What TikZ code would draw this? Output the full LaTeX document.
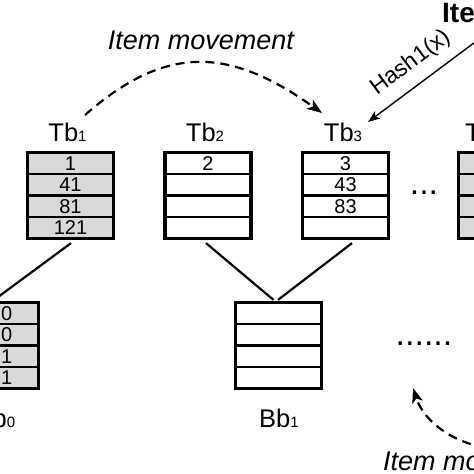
\documentclass[tikz,border=0pt]{standalone}
\usepackage{fontspec}
\setmainfont{Liberation Sans}
\usetikzlibrary{arrows.meta,calc}
\newcommand{\fsz}[1]{\fontsize{#1}{#1}\selectfont}
\newcommand{\subdig}[1]{{\fsz{15}#1}}
\tikzset{
 cell/.style={draw, line width=2.2pt, minimum width=85pt, minimum height=21.25pt, inner sep=0pt, font=\fsz{20}},
 outerbox/.style={draw, line width=2.6pt},
 lab/.style={font=\fsz{25.5}, anchor=base, inner sep=0pt},
 link/.style={line width=2.2pt},
 movearrow/.style={line width=2.2pt, dash pattern=on 9pt off 6pt, -{Stealth[length=15pt,width=11pt,inset=4pt]}},
 hasharrow/.style={line width=1.4pt, -{Stealth[length=12pt,width=9pt,inset=3pt]}},
 dotstext/.style={font=\fsz{34}, anchor=base, inner sep=0pt},
}
\newcommand{\mybucket}[8]{%
 \node[cell,fill=#4] (#1-1) at (#2,#3+10.625) {#5};
 \node[cell,fill=#4] (#1-2) at (#2,#3+31.875) {#6};
 \node[cell,fill=#4] (#1-3) at (#2,#3+53.125) {#7};
 \node[cell,fill=#4] (#1-4) at (#2,#3+74.375) {#8};
 \draw[outerbox] (#1-1.north west) rectangle (#1-4.south east);
}
\begin{document}
\begin{tikzpicture}[x=1pt,y=-1pt]
\useasboundingbox (0,0) rectangle (474,474);
\clip (0,0) rectangle (474,474);
\fill[white] (0,0) rectangle (474,474);

% top buckets
\mybucket{tb1}{70.5}{153}{black!15}{1}{41}{81}{121}
\mybucket{tb2}{208}{153}{white}{2}{}{}{}
\mybucket{tb3}{345.5}{153}{white}{3}{43}{83}{}
\mybucket{tb4}{501.5}{153}{black!15}{}{}{}{}

% bottom buckets
\mybucket{bb0}{-4.5}{303}{black!15}{120}{160}{121}{161}
\mybucket{bb1}{278.5}{303}{white}{}{}{}{}

% labels
\node[lab] (tb1lab) at (67.5,141) {Tb\subdig{1}};
\node[lab] (tb2lab) at (205,141) {Tb\subdig{2}};
\node[lab] (tb3lab) at (343,141) {Tb\subdig{3}};
\node[lab, anchor=base west] (tb4lab) at (465,141) {Tb\subdig{4}};
\node[lab] (bb0lab) at (-4.5,427) {Bb\subdig{0}};
\node[lab] (bb1lab) at (279,427) {Bb\subdig{1}};

\node[dotstext] (dots1) at (424,194.5) {...};
\node[dotstext] (dots2) at (424,345) {......};

% connectors
\draw[link] ($(tb1-4.south)+(0.5,4)$) -- ($(bb0-1.north)+(0,-3)$);
\draw[link] ($(tb2-4.south)+(-2,4)$) -- ($(bb1-1.north)+(-5,-2)$);
\draw[link] ($(tb3-4.south)+(6.5,4)$) -- ($(bb1-1.north)+(-0.5,-2)$);

% item movement (top)
\node[font=\fsz{27}\itshape, anchor=base, inner sep=0pt] (mvtop) at (201,49) {Item movement};
\coordinate (mvA) at (85,115);
\coordinate (mvB) at (322,113);
\draw[movearrow] (mvA) .. controls (165,45) and (228,46) .. (mvB);

% item x and hash
\node[font=\fsz{28}\bfseries, anchor=base west, inner sep=0pt] (item) at (442,22) {Item};
\coordinate (itemsrc) at (490,31);
\coordinate (tb3in) at (368,122);
\draw[hasharrow] (itemsrc) -- (tb3in);
\node[font=\fsz{23}, rotate=36.7, inner sep=0pt] (hashlab) at (411,63) {Hash1(x)};

% item movement (bottom)
\node[font=\fsz{27}\itshape, anchor=base west, inner sep=0pt] (mvbot) at (383,470) {Item movement};
\coordinate (mvC) at (500,450);
\coordinate (mvD) at (413,388);
\draw[movearrow] (mvC) .. controls (455,446) and (424,422) .. (mvD);
\end{tikzpicture}
\end{document}
